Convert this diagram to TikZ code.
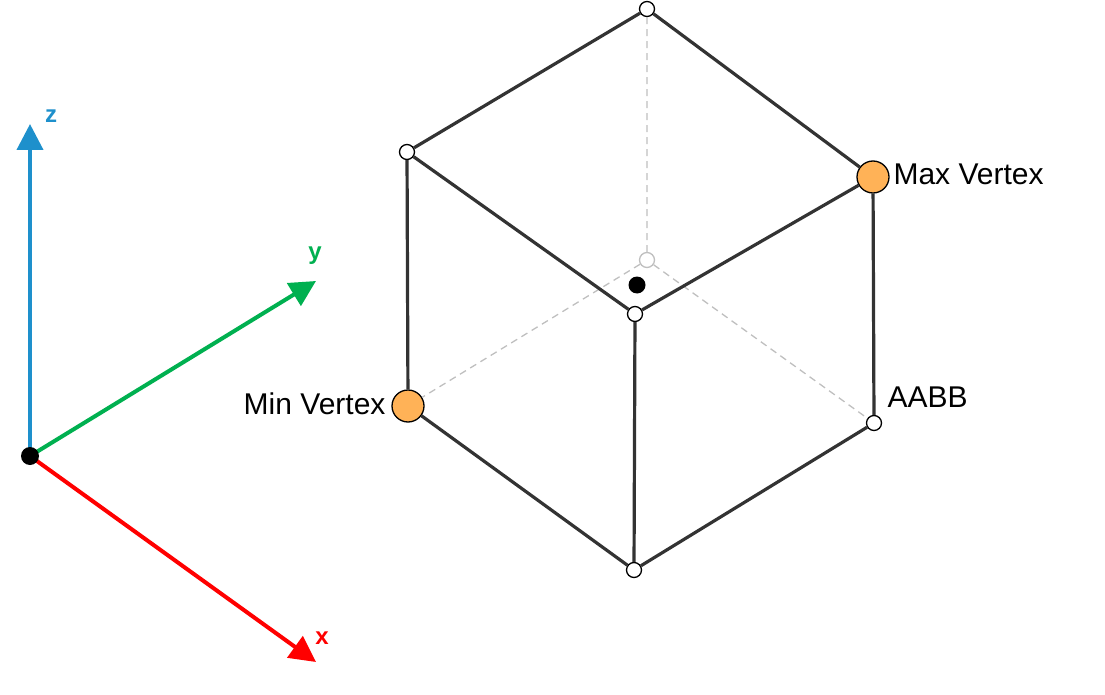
\documentclass[tikz,border=0pt]{standalone}
\usepackage{fontspec}
\setmainfont{Liberation Sans}
\usetikzlibrary{arrows.meta}
\begin{document}
\begin{tikzpicture}[x=1pt,y=-1pt,
 edge/.style={draw=black!80,line width=3.2pt},
 hid/.style={draw=black!25,line width=1.3pt,dash pattern=on 7pt off 5pt},
 vtx/.style={circle,draw=black,fill=white,line width=1.3pt,minimum size=15pt,inner sep=0pt},
 big/.style={circle,draw=black,fill={rgb,255:red,255;green,178;blue,87},line width=1.3pt,minimum size=32pt,inner sep=0pt},
 axis/.style={line width=4pt,-{Triangle[length=26pt,width=26pt]}},
 lbl/.style={font=\fontsize{30pt}{34pt}\selectfont},
 albl/.style={font=\bfseries\fontsize{24pt}{28pt}\selectfont}]
\useasboundingbox (0,0) rectangle (1105,695);
\coordinate (B) at (647,260);
\node[vtx,draw=black!25] (Bn) at (B) {};
\node[vtx] (T) at (647,9) {};
\node[vtx] (LT) at (407,152) {};
\node[big] (MX) at (873,177) {};
\node[vtx] (F) at (635,314) {};
\node[big] (MN) at (408,406) {};
\node[vtx] (A) at (874,423) {};
\node[vtx] (BT) at (634,570) {};
\draw[hid] (T)--(Bn) (Bn)--(MN) (Bn)--(A);
\draw[edge] (T)--(LT) (T)--(MX) (LT)--(F) (MX)--(F) (LT)--(MN) (MX)--(A) (F)--(BT) (MN)--(BT) (A)--(BT);
\node[circle,fill=black,minimum size=17pt,inner sep=0pt] (C) at (637,285) {};
\node[lbl,anchor=west] (mxl) at (890,174) {Max Vertex};
\node[lbl,anchor=east] (mnl) at (389,404) {Min Vertex};
\node[lbl,anchor=west] (al) at (884,397) {AABB};
\coordinate (Z) at (30,124);
\coordinate (Y) at (316,281);
\coordinate (X) at (316,662);
\draw[axis,draw={rgb,255:red,30;green,144;blue,204}] (30,456)--(Z);
\draw[axis,draw={rgb,255:red,0;green,176;blue,80}] (30,456)--(Y);
\draw[axis,draw={rgb,255:red,255;green,0;blue,0}] (30,456)--(X);
\node[circle,fill=black,minimum size=18pt,inner sep=0pt] (O) at (30,456) {};
\node[albl,text={rgb,255:red,30;green,144;blue,204}] (zl) at (51,116) {z};
\node[albl,text={rgb,255:red,0;green,176;blue,80}] (yl) at (315,256) {y};
\node[albl,text=red] (xl) at (322,638) {x};
\end{tikzpicture}
\end{document}
